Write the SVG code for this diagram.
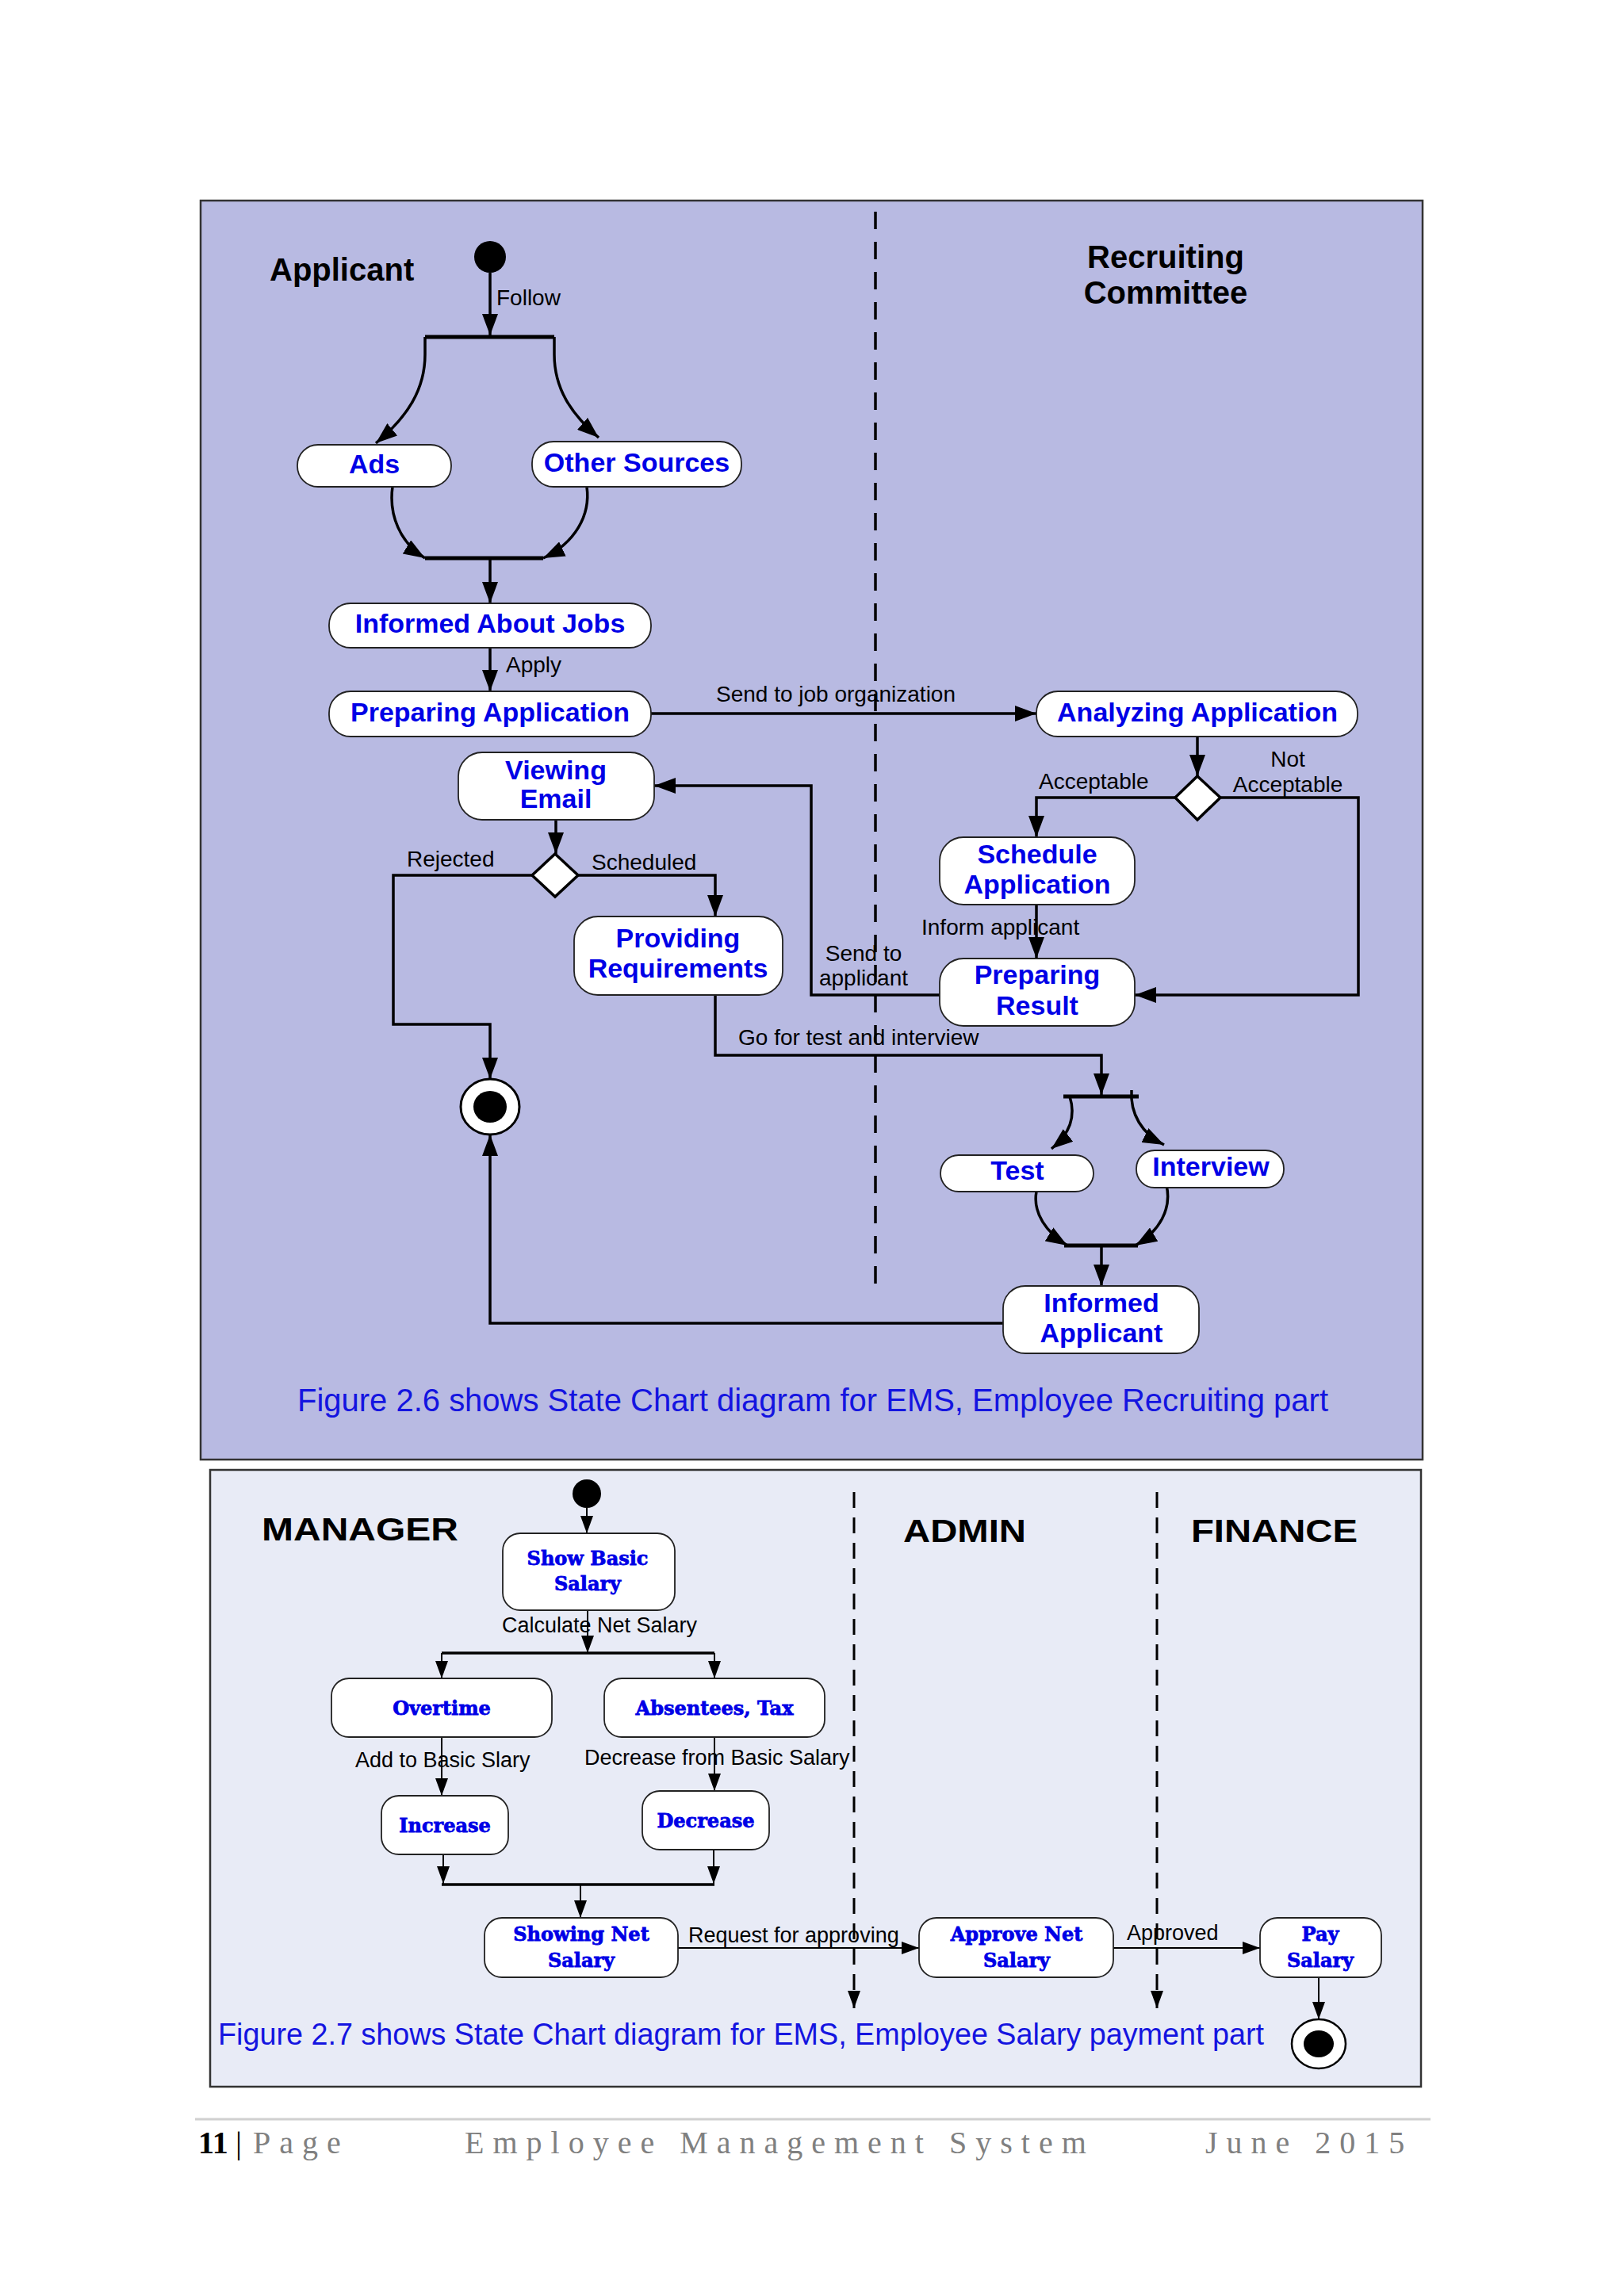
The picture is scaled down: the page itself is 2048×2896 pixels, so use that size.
<svg xmlns="http://www.w3.org/2000/svg" width="2048" height="2896" viewBox="0 0 2048 2896">
<defs>
<marker id="ah" markerUnits="userSpaceOnUse" markerWidth="27" markerHeight="20" refX="27" refY="10" orient="auto"><path d="M0,0 L27,10 L0,20 z" fill="#000"/></marker>
<marker id="as" markerUnits="userSpaceOnUse" markerWidth="22" markerHeight="16" refX="22" refY="8" orient="auto"><path d="M0,0 L22,8 L0,16 z" fill="#000"/></marker>
<style>
.box1{fill:#b8bae2;stroke:#333;stroke-width:2.5}
.box2{fill:#e8ebf6;stroke:#333;stroke-width:2.5}
.n{fill:#fff;stroke:#222;stroke-width:1.8}
.nt{font-family:"Liberation Sans",Arial,sans-serif;font-weight:bold;font-size:34px;fill:#0000e6;text-anchor:middle}
.nt2{font-family:"DejaVu Serif",serif;font-weight:bold;font-size:24px;fill:#0000e6;stroke:#0000e6;stroke-width:0.8;text-anchor:middle}
.lb{font-family:"Liberation Sans",Arial,sans-serif;font-size:28px;fill:#000}
.lb2{font-family:"Liberation Sans",Arial,sans-serif;font-size:27px;fill:#000}
.hd{font-family:"Liberation Sans",Arial,sans-serif;font-weight:bold;font-size:40px;fill:#000}
.cap{font-family:"Liberation Sans",Arial,sans-serif;font-size:40px;fill:#1414e0}
.c1{fill:none;stroke:#000;stroke-width:3.5}
.c2{fill:none;stroke:#000;stroke-width:2}
.bar1{stroke:#000;stroke-width:5}
.bar2{stroke:#000;stroke-width:3.5}
.dm{fill:#fff;stroke:#000;stroke-width:3.5}
.ft{font-family:"Liberation Serif","Times New Roman",serif;font-size:40px;fill:#808080;letter-spacing:11px}
</style>
</defs>

<rect class="box1" x="253" y="253" width="1541" height="1588"/>
<rect class="box2" x="265" y="1854" width="1527" height="778"/>

<line x1="1104" y1="267" x2="1104" y2="1631" stroke="#000" stroke-width="3.5" stroke-dasharray="22 16"/>

<text class="hd" x="340" y="354">Applicant</text>
<text class="hd" x="1470" y="338" text-anchor="middle">Recruiting</text>
<text class="hd" x="1470" y="383" text-anchor="middle">Committee</text>

<g id="connectors">
<line class="c1" x1="618" y1="344" x2="618" y2="423" marker-end="url(#ah)"/>
<line class="bar1" x1="536" y1="425" x2="699" y2="425"/>
<path class="c1" d="M536,425 L536,447 C536,490 515,525 474,559" marker-end="url(#ah)"/>
<path class="c1" d="M699,425 L699,447 C699,490 720,522 755,552" marker-end="url(#ah)"/>
<path class="c1" d="M495,614 C490,650 505,685 536,704" marker-end="url(#ah)"/>
<path class="c1" d="M740,614 C745,650 725,685 685,704" marker-end="url(#ah)"/>
<line class="bar1" x1="536" y1="704" x2="685" y2="704"/>
<line class="c1" x1="618" y1="704" x2="618" y2="761" marker-end="url(#ah)"/>
<line class="c1" x1="618" y1="817" x2="618" y2="872" marker-end="url(#ah)"/>
<line class="c1" x1="821" y1="900" x2="1307" y2="900" marker-end="url(#ah)"/>
<line class="c1" x1="1510" y1="929" x2="1510" y2="979" marker-end="url(#ah)"/>
<polyline class="c1" points="1482,1006 1307,1006 1307,1056" marker-end="url(#ah)"/>
<polyline class="c1" points="1539,1006 1713,1006 1713,1255 1431,1255" marker-end="url(#ah)"/>
<line class="c1" x1="1307" y1="1141" x2="1307" y2="1209" marker-end="url(#ah)"/>
<polyline class="c1" points="1185,1255 1023,1255 1023,991 825,991" marker-end="url(#ah)"/>
<line class="c1" x1="701" y1="1034" x2="701" y2="1077" marker-end="url(#ah)"/>
<polyline class="c1" points="671,1104 496,1104 496,1292 618,1292 618,1361" marker-end="url(#ah)"/>
<polyline class="c1" points="729,1104 902,1104 902,1156" marker-end="url(#ah)"/>
<polyline class="c1" points="902,1255 902,1331 1389,1331 1389,1381" marker-end="url(#ah)"/>
<line class="bar1" x1="1341" y1="1383" x2="1436" y2="1383"/>
<path class="c1" d="M1349,1383 C1356,1405 1352,1428 1326,1449" marker-end="url(#ah)"/>
<path class="c1" d="M1427,1375 C1425,1405 1440,1430 1468,1444" marker-end="url(#ah)"/>
<path class="c1" d="M1307,1503 C1302,1530 1320,1555 1346,1571" marker-end="url(#ah)"/>
<path class="c1" d="M1471,1495 C1478,1525 1462,1553 1432,1571" marker-end="url(#ah)"/>
<line class="bar1" x1="1342" y1="1571" x2="1435" y2="1571"/>
<line class="c1" x1="1389" y1="1571" x2="1389" y2="1622" marker-end="url(#ah)"/>
<polyline class="c1" points="1265,1669 618,1669 618,1431" marker-end="url(#ah)"/>

<line class="c2" x1="740" y1="1902" x2="740" y2="1934" marker-end="url(#as)"/>
<line class="c2" x1="741" y1="2031" x2="741" y2="2085" marker-end="url(#as)"/>
<line class="bar2" x1="557" y1="2085" x2="901" y2="2085"/>
<line class="c2" x1="557" y1="2085" x2="557" y2="2117" marker-end="url(#as)"/>
<line class="c2" x1="901" y1="2085" x2="901" y2="2117" marker-end="url(#as)"/>
<line class="c2" x1="557" y1="2191" x2="557" y2="2265" marker-end="url(#as)"/>
<line class="c2" x1="901" y1="2191" x2="901" y2="2259" marker-end="url(#as)"/>
<line class="c2" x1="559" y1="2339" x2="559" y2="2376" marker-end="url(#as)"/>
<line class="c2" x1="900" y1="2333" x2="900" y2="2376" marker-end="url(#as)"/>
<line class="bar2" x1="557" y1="2377" x2="901" y2="2377"/>
<line class="c2" x1="732" y1="2377" x2="732" y2="2419" marker-end="url(#as)"/>
<line class="c2" x1="855" y1="2457" x2="1159" y2="2457" marker-end="url(#as)"/>
<line class="c2" x1="1404" y1="2457" x2="1589" y2="2457" marker-end="url(#as)"/>
<line class="c2" x1="1663" y1="2494" x2="1663" y2="2547" marker-end="url(#as)"/>
<line x1="1077" y1="1882" x2="1077" y2="2533" stroke="#000" stroke-width="3" stroke-dasharray="20 12" marker-end="url(#as)"/>
<line x1="1459" y1="1882" x2="1459" y2="2533" stroke="#000" stroke-width="3" stroke-dasharray="20 12" marker-end="url(#as)"/>
</g>

<g id="labels">
<text class="lb" x="626" y="385">Follow</text>
<text class="lb" x="638" y="848">Apply</text>
<text class="lb" x="903" y="885">Send to job organization</text>
<text class="lb" x="1310" y="995">Acceptable</text>
<text class="lb" x="1624" y="967" text-anchor="middle">Not</text>
<text class="lb" x="1624" y="999" text-anchor="middle">Acceptable</text>
<text class="lb" x="513" y="1093">Rejected</text>
<text class="lb" x="746" y="1097">Scheduled</text>
<text class="lb" x="1162" y="1179">Inform applicant</text>
<text class="lb" x="1089" y="1212" text-anchor="middle">Send to</text>
<text class="lb" x="1089" y="1243" text-anchor="middle">applicant</text>
<text class="lb" x="931" y="1318">Go for test and interview</text>
<text class="lb2" x="633" y="2059">Calculate Net Salary</text>
<text class="lb2" x="448" y="2229">Add to Basic Slary</text>
<text class="lb2" x="737" y="2226">Decrease from Basic Salary</text>
<text class="lb2" x="868" y="2450">Request for approving</text>
<text class="lb2" x="1421" y="2447">Approved</text>
</g>

<g id="start1"><circle cx="618" cy="324" r="20" fill="#000"/></g>
<g id="ads"><rect class="n" x="375" y="561" width="194" height="53" rx="26"/><text class="nt" x="472" y="597">Ads</text></g>
<g id="other-sources"><rect class="n" x="671" y="557" width="264" height="57" rx="27"/><text class="nt" x="803" y="595">Other Sources</text></g>
<g id="informed-about-jobs"><rect class="n" x="415" y="761" width="406" height="56" rx="27"/><text class="nt" x="618" y="798">Informed About Jobs</text></g>
<g id="preparing-application"><rect class="n" x="415" y="872" width="406" height="57" rx="27"/><text class="nt" x="618" y="910">Preparing Application</text></g>
<g id="analyzing-application"><rect class="n" x="1307" y="872" width="405" height="57" rx="27"/><text class="nt" x="1510" y="910">Analyzing Application</text></g>
<g id="decision-analyze"><polygon class="dm" points="1510,979 1539,1006 1510,1034 1482,1006"/></g>
<g id="viewing-email"><rect class="n" x="578" y="949" width="247" height="85" rx="30"/><text class="nt" x="701" y="983">Viewing</text><text class="nt" x="701" y="1019">Email</text></g>
<g id="decision-view"><polygon class="dm" points="700,1077 729,1104 700,1131 671,1104"/></g>
<g id="providing-requirements"><rect class="n" x="724" y="1156" width="263" height="99" rx="30"/><text class="nt" x="855" y="1195">Providing</text><text class="nt" x="855" y="1233">Requirements</text></g>
<g id="schedule-application"><rect class="n" x="1185" y="1056" width="246" height="85" rx="30"/><text class="nt" x="1308" y="1089">Schedule</text><text class="nt" x="1308" y="1127">Application</text></g>
<g id="preparing-result"><rect class="n" x="1185" y="1209" width="246" height="85" rx="30"/><text class="nt" x="1308" y="1241">Preparing</text><text class="nt" x="1308" y="1280">Result</text></g>
<g id="final1"><ellipse cx="618" cy="1396" rx="37" ry="35" fill="#fff" stroke="#000" stroke-width="3"/><ellipse cx="618" cy="1396" rx="21" ry="20" fill="#000"/></g>
<g id="test"><rect class="n" x="1186" y="1457" width="193" height="46" rx="23"/><text class="nt" x="1283" y="1488">Test</text></g>
<g id="interview"><rect class="n" x="1433" y="1451" width="186" height="47" rx="23"/><text class="nt" x="1527" y="1483">Interview</text></g>
<g id="informed-applicant"><rect class="n" x="1265" y="1622" width="247" height="85" rx="28"/><text class="nt" x="1389" y="1655">Informed</text><text class="nt" x="1389" y="1693">Applicant</text></g>

<text class="cap" x="375" y="1780" textLength="1300" lengthAdjust="spacingAndGlyphs">Figure 2.6 shows State Chart diagram for EMS, Employee Recruiting part</text>

<text class="hd" x="330" y="1943" textLength="248" lengthAdjust="spacingAndGlyphs">MANAGER</text>
<text class="hd" x="1139" y="1945" textLength="155" lengthAdjust="spacingAndGlyphs">ADMIN</text>
<text class="hd" x="1502" y="1945" textLength="210" lengthAdjust="spacingAndGlyphs">FINANCE</text>

<g id="start2"><circle cx="740" cy="1884" r="18" fill="#000"/></g>
<g id="show-basic-salary"><rect class="n" x="634" y="1934" width="217" height="97" rx="22"/><text class="nt2" x="741" y="1974">Show Basic</text><text class="nt2" x="741" y="2006">Salary</text></g>
<g id="overtime"><rect class="n" x="418" y="2117" width="278" height="74" rx="22"/><text class="nt2" x="557" y="2163">Overtime</text></g>
<g id="absentees-tax"><rect class="n" x="762" y="2117" width="278" height="74" rx="22"/><text class="nt2" x="901" y="2163">Absentees, Tax</text></g>
<g id="increase"><rect class="n" x="481" y="2265" width="160" height="74" rx="22"/><text class="nt2" x="561" y="2311">Increase</text></g>
<g id="decrease"><rect class="n" x="810" y="2259" width="160" height="74" rx="22"/><text class="nt2" x="890" y="2305">Decrease</text></g>
<g id="showing-net-salary"><rect class="n" x="611" y="2419" width="244" height="75" rx="22"/><text class="nt2" x="733" y="2448">Showing Net</text><text class="nt2" x="733" y="2481">Salary</text></g>
<g id="approve-net-salary"><rect class="n" x="1159" y="2419" width="245" height="75" rx="22"/><text class="nt2" x="1282" y="2448">Approve Net</text><text class="nt2" x="1282" y="2481">Salary</text></g>
<g id="pay-salary"><rect class="n" x="1589" y="2419" width="153" height="75" rx="22"/><text class="nt2" x="1665" y="2448">Pay</text><text class="nt2" x="1665" y="2481">Salary</text></g>
<g id="final2"><ellipse cx="1663" cy="2578" rx="34" ry="31" fill="#fff" stroke="#000" stroke-width="2.5"/><ellipse cx="1663" cy="2578" rx="19" ry="17" fill="#000"/></g>

<text class="cap" x="275" y="2579" textLength="1319" lengthAdjust="spacingAndGlyphs" style="font-size:38px">Figure 2.7 shows State Chart diagram for EMS, Employee Salary payment part</text>

<line x1="246" y1="2673" x2="1804" y2="2673" stroke="#d0d0d0" stroke-width="3"/>
<text x="250" y="2716" font-family="Liberation Serif, Times New Roman, serif" font-weight="bold" font-size="40" fill="#000">11</text>
<text x="297" y="2716" font-family="Liberation Serif, Times New Roman, serif" font-size="40" fill="#000">|</text>
<text class="ft" x="319" y="2716">Page</text>
<text class="ft" x="586" y="2716">Employee Management System</text>
<text class="ft" x="1520" y="2716">June 2015</text>
</svg>
